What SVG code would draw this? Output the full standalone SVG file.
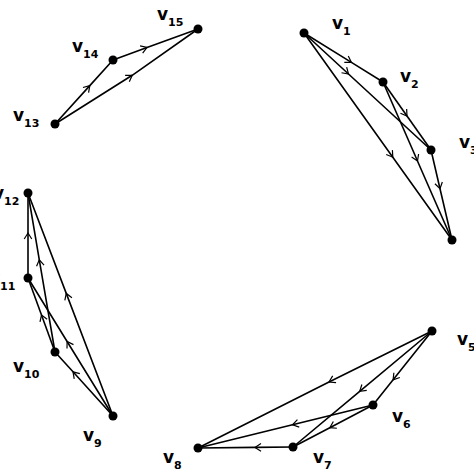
<svg xmlns="http://www.w3.org/2000/svg" width="474" height="474" viewBox="0 0 474 474">
<defs>
<marker id="chev" markerUnits="userSpaceOnUse" viewBox="-8 -5 10 10" markerWidth="10" markerHeight="10" refX="0" refY="0" orient="auto">
<path d="M-6,-3.8 L0,0 L-6,3.8" fill="none" stroke="#000" stroke-width="1.2"/>
</marker>
</defs>
<style>
.e{fill:none;stroke:#000;stroke-width:1.6;marker-mid:url(#chev)}
.n{fill:#000}
.l{font-family:"DejaVu Sans",sans-serif;font-weight:bold;font-size:17px;fill:#000}
.s{font-size:11px}
</style>
<rect width="474" height="474" fill="#fff"/>
<g id="edges">
<path class="e" d="M304,33 L351.4,62.4 L383,82"/>
<path class="e" d="M304,33 L348.5,74 L431,150"/>
<path class="e" d="M304,33 L392.8,157.2 L452,240"/>
<path class="e" d="M383,82 L407,116 L431,150"/>
<path class="e" d="M383,82 L417.5,161 L452,240"/>
<path class="e" d="M431,150 L440,188.7 L452,240"/>
<path class="e" d="M55,124 L89.8,85.6 L113,60"/>
<path class="e" d="M113,60 L147,47.4 L198,29"/>
<path class="e" d="M55,124 L132.2,75.3 L198,29"/>
<path class="e" d="M113,416 L73,371.8 L55,352"/>
<path class="e" d="M113,416 L67.1,341.5 L28,278"/>
<path class="e" d="M113,416 L66.25,293.4 L28,193"/>
<path class="e" d="M55,352 L41.5,315 L28,278"/>
<path class="e" d="M55,352 L39.3,259.8 L28,193"/>
<path class="e" d="M28,278 L28,233 L28,193"/>
<path class="e" d="M432,331 L393.1,379.8 L373,405"/>
<path class="e" d="M432,331 L359.7,391.3 L293,447"/>
<path class="e" d="M432,331 L329,382 L198,448"/>
<path class="e" d="M373,405 L329.8,427.7 L293,447"/>
<path class="e" d="M373,405 L292.5,424.8 L198,448"/>
<path class="e" d="M293,447 L255,447.4 L198,448"/>
</g>
<g id="v1"><circle class="n" cx="304" cy="33" r="4.5"/><text class="l" x="332" y="29">v<tspan class="s" dy="6">1</tspan></text></g>
<g id="v2"><circle class="n" cx="383" cy="82" r="4.5"/><text class="l" x="400" y="82">v<tspan class="s" dy="6">2</tspan></text></g>
<g id="v3"><circle class="n" cx="431" cy="150" r="4.5"/><text class="l" x="459" y="148">v<tspan class="s" dy="6">3</tspan></text></g>
<g id="v4"><circle class="n" cx="452" cy="240" r="4.5"/></g>
<g id="v5"><circle class="n" cx="432" cy="331" r="4.5"/><text class="l" x="457" y="345">v<tspan class="s" dy="6">5</tspan></text></g>
<g id="v6"><circle class="n" cx="373" cy="405" r="4.5"/><text class="l" x="392" y="422">v<tspan class="s" dy="6">6</tspan></text></g>
<g id="v7"><circle class="n" cx="293" cy="447" r="4.5"/><text class="l" x="313" y="463">v<tspan class="s" dy="6">7</tspan></text></g>
<g id="v8"><circle class="n" cx="198" cy="448" r="4.5"/><text class="l" x="163" y="463">v<tspan class="s" dy="6">8</tspan></text></g>
<g id="v9"><circle class="n" cx="113" cy="416" r="4.5"/><text class="l" x="83" y="441">v<tspan class="s" dy="6">9</tspan></text></g>
<g id="v10"><circle class="n" cx="55" cy="352" r="4.5"/><text class="l" x="13" y="372">v<tspan class="s" dy="6">10</tspan></text></g>
<g id="v11"><circle class="n" cx="28" cy="278" r="4.5"/><text class="l" x="-11" y="284">v<tspan class="s" dy="6">11</tspan></text></g>
<g id="v12"><circle class="n" cx="28" cy="193" r="4.5"/><text class="l" x="-7" y="199">v<tspan class="s" dy="6">12</tspan></text></g>
<g id="v13"><circle class="n" cx="55" cy="124" r="4.5"/><text class="l" x="13" y="121">v<tspan class="s" dy="6">13</tspan></text></g>
<g id="v14"><circle class="n" cx="113" cy="60" r="4.5"/><text class="l" x="72" y="52">v<tspan class="s" dy="6">14</tspan></text></g>
<g id="v15"><circle class="n" cx="198" cy="29" r="4.5"/><text class="l" x="157" y="20">v<tspan class="s" dy="6">15</tspan></text></g>
</svg>
